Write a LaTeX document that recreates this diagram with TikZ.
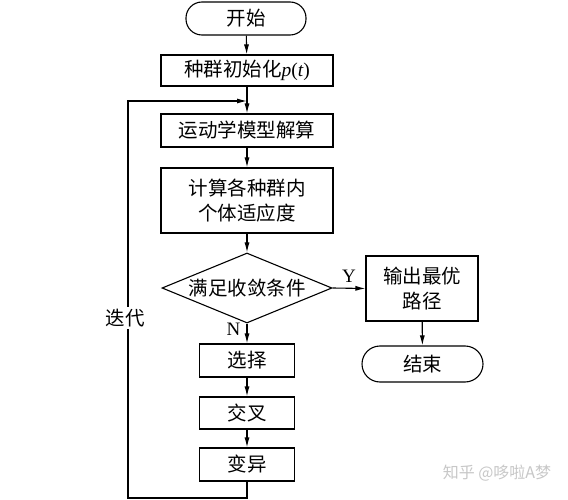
\documentclass[tikz,border=0pt]{standalone}
\usepackage{fontspec}
\setmainfont{Liberation Serif}
\newfontfamily\cjk{Noto Sans CJK SC}
\newcommand\latit[1]{{\rmfamily\itshape #1}}
\usetikzlibrary{shapes.geometric,arrows.meta}
\begin{document}
\begin{tikzpicture}[x=1pt,y=-1pt,
  every node/.style={font=\cjk\fontsize{19.5}{25}\selectfont, inner sep=0pt, align=center},
  box/.style={draw, line width=1.1pt, rectangle},
  term/.style={draw, line width=1.1pt, rectangle, rounded corners=16pt},
  dec/.style={draw, line width=1.1pt, diamond, aspect=2.43},
  conn/.style={line width=1.1pt, -{Latex[length=10pt,width=5pt]}},
  lbl/.style={font=\rmfamily\fontsize{19}{20}\selectfont}
]
\useasboundingbox (0,0) rectangle (568,500);
\node[term, minimum width=120pt, minimum height=33pt] (start) at (246,18.5) {开始};
\node[box, minimum width=172pt, minimum height=31pt] (init) at (247,70.5) {种群初始化\latit{p}{\rmfamily(}\latit{t}{\rmfamily)}};
\node[box, minimum width=172pt, minimum height=33pt] (kin) at (247,130.5) {运动学模型解算};
\node[box, minimum width=172pt, minimum height=65pt] (fit) at (247,200.5) {计算各种群内\\个体适应度};
\node[dec, minimum width=170pt, minimum height=70pt] (cond) at (247,288) {满足收敛条件};
\node[box, minimum width=95pt, minimum height=33pt] (sel) at (247,360.5) {选择};
\node[box, minimum width=95pt, minimum height=32pt] (cross) at (247,413) {交叉};
\node[box, minimum width=95pt, minimum height=33pt] (mut) at (247,464.5) {变异};
\node[box, minimum width=112pt, minimum height=65pt] (out) at (422,288.5) {输出最优\\路径};
\node[term, minimum width=121pt, minimum height=36pt, rounded corners=18pt] (end) at (422.5,364) {结束};

\draw[conn] (start) -- (init);
\draw[conn] (init) -- (kin);
\draw[conn] (kin) -- (fit);
\draw[conn] (fit) -- (cond);
\draw[conn] (cond.east) -- node[lbl, above=5pt] (y) {Y} (out.west);
\draw[conn] (cond.south) -- node[lbl, left=6pt, pos=0.3] (n) {N} (sel.north);
\draw[conn] (sel) -- (cross);
\draw[conn] (cross) -- (mut);
\draw[conn] (out) -- (end);

\coordinate (b1) at (247,498);
\coordinate (b2) at (128,498);
\coordinate (t1) at (128,101);
\coordinate (join) at (247,101);
\draw[conn] (mut.south) -- (b1) -- (b2) -- (t1) -- (join);
\node[fill=white, inner sep=2pt] (iter) at (125,318) {迭代};

\node[text=black!22, font=\cjk\fontsize{16}{18}\selectfont] (wm) at (497,473) {知乎 @哆啦A梦};
\end{tikzpicture}
\end{document}
